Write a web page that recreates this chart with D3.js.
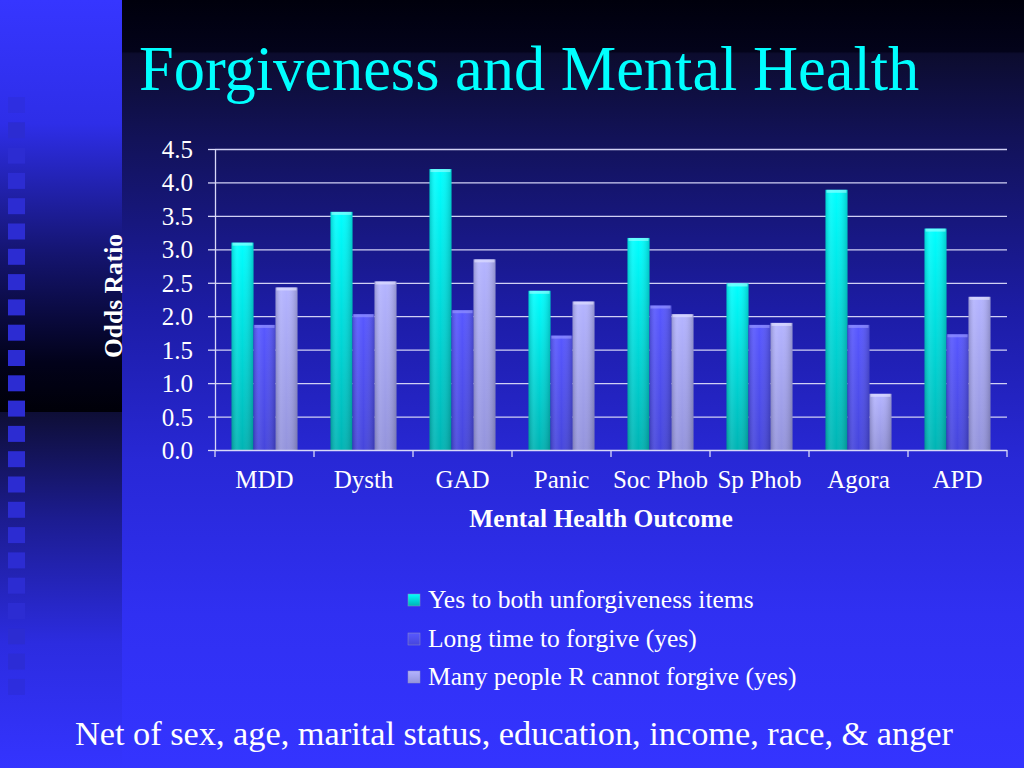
<!DOCTYPE html>
<html><head><meta charset="utf-8">
<script src="https://cdn.jsdelivr.net/npm/d3@7"></script>
<style>html,body{margin:0;padding:0;background:#000;}svg{display:block;}</style>
</head><body>
<script>
const categories = ["MDD","Dysth","GAD","Panic","Soc Phob","Sp Phob","Agora","APD"];
const seriesNames = ["Yes to both unforgiveness items","Long time to forgive (yes)","Many people R cannot forgive (yes)"];
const yesBoth   = [3.10, 3.56, 4.20, 2.38, 3.17, 2.49, 3.89, 3.31];
const longTime  = [1.87, 2.03, 2.09, 1.71, 2.16, 1.87, 1.87, 1.73];
const manyPeople= [2.43, 2.52, 2.85, 2.22, 2.03, 1.90, 0.84, 2.29];
const yTicks = [0,0.5,1,1.5,2,2.5,3,3.5,4,4.5];
const series = [yesBoth, longTime, manyPeople];

(function(){
const W=1024,H=768;
const svg=d3.select("body").append("svg").attr("width",W).attr("height",H);
const defs=svg.append("defs");

function vgrad(id,stops){
  const g=defs.append("linearGradient").attr("id",id).attr("x1",0).attr("y1",0).attr("x2",0).attr("y2",1);
  stops.forEach(s=>g.append("stop").attr("offset",s[0]).attr("stop-color",s[1]));
}
function hgrad(id,stops){
  const g=defs.append("linearGradient").attr("id",id).attr("x1",0).attr("y1",0).attr("x2",1).attr("y2",0);
  stops.forEach(s=>g.append("stop").attr("offset",s[0]).attr("stop-color",s[1]).attr("stop-opacity",s[2]));
}
vgrad("bgMain",[[0,"#00000c"],[0.067,"#03031a"],[0.07,"#0c0c2e"],[0.18,"#121258"],[0.4,"#1c1ca4"],[0.6,"#2828d6"],[0.8,"#3030f2"],[1,"#3434ff"]]);
vgrad("bgLeft1",[[0,"#3636ff"],[0.3,"#2e2ee8"],[0.62,"#14146e"],[0.88,"#02021a"],[1,"#000008"]]);
vgrad("bgLeft2",[[0,"#0e0e36"],[0.3,"#1c1c90"],[0.65,"#2c2ce0"],[1,"#3434ff"]]);
vgrad("gCyan",[[0,"#00ffff"],[1,"#00b4b4"]]);
vgrad("gBlue",[[0,"#5858ff"],[1,"#4646dc"]]);
vgrad("gLight",[[0,"#b4b4ff"],[1,"#9494dc"]]);
hgrad("shade",[[0,"#000",0.18],[0.25,"#fff",0.08],[0.5,"#fff",0],[1,"#000",0.2]]);
const fills=["url(#gCyan)","url(#gBlue)","url(#gLight)"];
const caps=["#a0ffff","#9a9aff","#e4e4ff"];

svg.append("rect").attr("x",0).attr("y",0).attr("width",W).attr("height",H).attr("fill","url(#bgMain)");
svg.append("rect").attr("x",0).attr("y",0).attr("width",122).attr("height",412).attr("fill","url(#bgLeft1)");
svg.append("rect").attr("x",0).attr("y",412).attr("width",122).attr("height",H-412).attr("fill","url(#bgLeft2)");
const sqY=d3.range(0,24).map(i=>97+i*25.3);
svg.append("g").selectAll("rect").data(sqY).join("rect")
  .attr("x",8).attr("y",d=>d).attr("width",17).attr("height",16)
  .attr("fill","#2c2cd2")
  .attr("opacity",d=>d<115?0.4:(d>640?Math.max(0,1-(d-640)/80):1));

const font="Liberation Serif, Times New Roman, serif";
svg.append("text").attr("x",139).attr("y",90).attr("font-family",font)
  .attr("font-size",62.4).attr("fill","#00ffff").text("Forgiveness and Mental Health");

const pL=215,pR=1007,pT=149,pB=450;
const x=d3.scaleBand().domain(categories).range([pL,pR]).paddingInner(0).paddingOuter(0);
const xs=d3.scaleBand().domain([0,1,2]).range([0,x.bandwidth()]).paddingOuter(0.75).paddingInner(0);
const y=d3.scaleLinear().domain([0,4.5]).range([pB,pT]);

svg.append("g").selectAll("line").data(yTicks.filter(t=>t>0)).join("line")
  .attr("x1",pL).attr("x2",pR).attr("y1",d=>y(d)+0.5).attr("y2",d=>y(d)+0.5)
  .attr("stroke","#d0d0f4").attr("stroke-width",1.3);

const yAxis=svg.append("g").attr("transform",`translate(${pL},0)`)
  .call(d3.axisLeft(y).tickValues(yTicks).tickFormat(d3.format(".1f")).tickSize(7).tickPadding(15));
yAxis.selectAll("path,line").attr("stroke","#d8d8f8").attr("stroke-width",1.3);
yAxis.select("path").attr("d",`M0.5,${pT}V${pB}`);
yAxis.selectAll("text").attr("font-family",font).attr("font-size",25).attr("fill","#fff").attr("dy","0.34em");

categories.forEach((c,ci)=>{
  series.forEach((s,si)=>{
    const bx=x(c)+xs(si), bw=xs.bandwidth(), by=y(s[ci]), bh=pB-by;
    const g=svg.append("g");
    g.append("rect").attr("x",bx).attr("y",by).attr("width",bw).attr("height",bh).attr("fill",fills[si]);
    g.append("rect").attr("x",bx).attr("y",by).attr("width",bw).attr("height",bh).attr("fill","url(#shade)");
    g.append("rect").attr("x",bx+1).attr("y",by).attr("width",bw-2).attr("height",3).attr("fill",caps[si]).attr("opacity",0.6);
  });
});

const xAxis=svg.append("g").attr("transform",`translate(0,${pB})`)
  .call(d3.axisBottom(x).tickSize(0).tickPadding(20));
xAxis.select("path").attr("stroke","#d8d8f8").attr("stroke-width",1.3).attr("d",`M${pL},0.5H${pR}`);
xAxis.selectAll("text").attr("font-family",font).attr("font-size",25).attr("fill","#fff");
svg.append("g").selectAll("line").data(d3.range(categories.length+1)).join("line")
  .attr("x1",i=>pL+i*x.step()).attr("x2",i=>pL+i*x.step())
  .attr("y1",pB).attr("y2",pB+7).attr("stroke","#d8d8f8").attr("stroke-width",1.3);

svg.append("text").attr("x",601).attr("y",527).attr("text-anchor","middle").attr("font-family",font)
  .attr("font-size",25.5).attr("font-weight","bold").attr("fill","#fff").text("Mental Health Outcome");
svg.append("text").attr("transform","translate(122,296) rotate(-90)").attr("text-anchor","middle").attr("font-family",font)
  .attr("font-size",25.5).attr("font-weight","bold").attr("fill","#fff").text("Odds Ratio");

const leg=svg.append("g");
seriesNames.forEach((n,i)=>{
  const ly=[608,647,685][i];
  leg.append("rect").attr("x",408).attr("y",ly-14).attr("width",12).attr("height",12).attr("fill",fills[i]).attr("stroke","#9090c0").attr("stroke-width",0.5);
  leg.append("text").attr("x",428).attr("y",ly).attr("font-family",font).attr("font-size",25.5).attr("fill","#fff").text(n);
});

svg.append("text").attr("x",514).attr("y",745).attr("text-anchor","middle").attr("font-family",font)
  .attr("font-size",34.3).attr("fill","#fff").text("Net of sex, age, marital status, education, income, race, & anger");
})();
</script>
</body></html>
